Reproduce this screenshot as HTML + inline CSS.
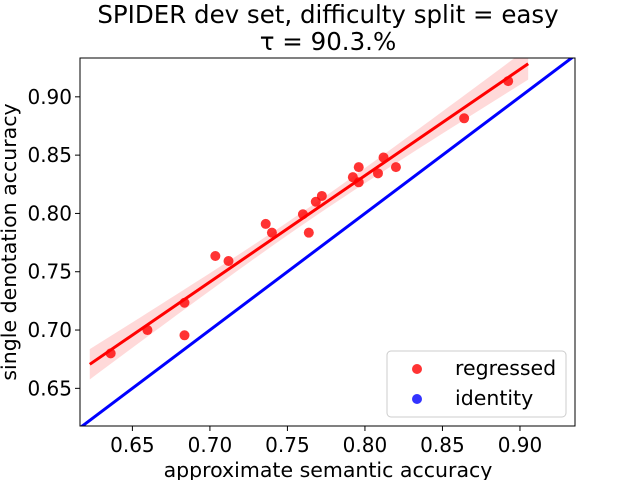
<!DOCTYPE html>
<html><head><meta charset="utf-8"><style>
body{margin:0;background:#fff}
svg{display:block;font-family:"DejaVu Sans","Liberation Sans",sans-serif}
</style></head><body>
<svg id="chart" width="640" height="480" viewBox="0 0 640 480">
<g id="title">
<text x="328" y="23" font-size="24.5" text-anchor="middle">SPIDER dev set, difficulty split = easy</text>
<text x="328" y="50" font-size="24.5" text-anchor="middle">τ = 90.3.%</text>
</g>
<defs><clipPath id="clip"><rect x="80" y="58" width="495" height="368"/></clipPath></defs>
<g id="plot" clip-path="url(#clip)"></g>
<g id="axes"></g>
<text x="328" y="477" font-size="20.5" text-anchor="middle">approximate semantic accuracy</text>
<text transform="translate(16,242) rotate(-90)" font-size="20.5" text-anchor="middle">single denotation accuracy</text>
<g>
<rect x="387" y="351" width="179" height="66" rx="4" fill="#fff" fill-opacity="0.8" stroke="#ccc"/>
<circle cx="417" cy="369" r="5" fill="#ff0000" fill-opacity="0.8"/>
<text x="455" y="375" font-size="20.5">regressed</text>
<circle cx="417" cy="399" r="5" fill="#0000ff" fill-opacity="0.8"/>
<text x="455" y="405" font-size="20.5">identity</text>
</g>
</svg>
<script>
const xVals = [0.636,0.6597,0.6836,0.6836,0.7035,0.712,0.736,0.740,0.760,0.7638,0.7683,0.7722,0.7922,0.796,0.796,0.8084,0.812,0.820,0.864,0.8924];
const yVals = [0.680,0.700,0.6955,0.7234,0.7635,0.7592,0.791,0.7835,0.7993,0.7835,0.810,0.815,0.8311,0.8397,0.8267,0.8344,0.848,0.8397,0.8816,0.9135];
const xTicks = [0.65,0.70,0.75,0.80,0.85,0.90];
const yTicks = [0.65,0.70,0.75,0.80,0.85,0.90];
const xDomain = [0.6162,0.9355];
const yDomain = [0.6177,0.9333];
const lineDomain = [0.6225,0.9053];

const L=80,R=575,T=58,B=426;
const sx=v=>L+(v-xDomain[0])/(xDomain[1]-xDomain[0])*(R-L);
const sy=v=>B-(v-yDomain[0])/(yDomain[1]-yDomain[0])*(B-T);
const NS="http://www.w3.org/2000/svg";
const plot=document.getElementById('plot'), axes=document.getElementById('axes');
function mk(tag,attrs,parent){const e=document.createElementNS(NS,tag);for(const k in attrs)e.setAttribute(k,attrs[k]);parent.appendChild(e);return e;}

const n=xVals.length;
const xm=xVals.reduce((a,b)=>a+b)/n, ym=yVals.reduce((a,b)=>a+b)/n;
let sxx=0,sxy=0;for(let i=0;i<n;i++){sxx+=(xVals[i]-xm)**2;sxy+=(xVals[i]-xm)*(yVals[i]-ym);}
const slope=sxy/sxx, icpt=ym-slope*xm;
let sse=0;for(let i=0;i<n;i++)sse+=(yVals[i]-icpt-slope*xVals[i])**2;
const s=Math.sqrt(sse/(n-2));
const up=[],dn=[];
for(let k=0;k<=50;k++){const x=lineDomain[0]+(lineDomain[1]-lineDomain[0])*k/50;
 const se=2.1*s*Math.sqrt(1/n+(x-xm)**2/sxx);const y=icpt+slope*x;
 up.push(sx(x)+','+sy(y+se));dn.unshift(sx(x)+','+sy(y-se));}
const band=mk('polygon',{points:up.concat(dn).join(' '),fill:'#ff0000','fill-opacity':0.15},plot);



const id=mk('line',{x1:sx(0.6),y1:sy(0.6),x2:sx(0.95),y2:sy(0.95),stroke:'#0000ff','stroke-width':3},plot);



const rl=mk('line',{x1:sx(lineDomain[0]),y1:sy(icpt+slope*lineDomain[0]),x2:sx(lineDomain[1]),y2:sy(icpt+slope*lineDomain[1]),stroke:'#ff0000','stroke-width':3},plot);



for(let i=0;i<n;i++){
 const c=mk('circle',{cx:sx(xVals[i]),cy:sy(yVals[i]),r:5,fill:'#ff0000','fill-opacity':0.8},plot);
 
 
}

const frame=mk('rect',{x:L,y:T,width:R-L,height:B-T,fill:'none',stroke:'#000','stroke-width':1},axes);


xTicks.forEach(t=>{
 const x=sx(t);
 const tk=mk('line',{x1:x,y1:B,x2:x,y2:B+5,stroke:'#000'},axes);
 
 
 const lb=mk('text',{x:x,y:B+26,'font-size':20,'text-anchor':'middle'},axes);
 lb.textContent=t.toFixed(2);
 
 
});
yTicks.forEach(t=>{
 const y=sy(t);
 const tk=mk('line',{x1:L-5,y1:y,x2:L,y2:y,stroke:'#000'},axes);
 
 
 const lb=mk('text',{x:L-8,y:y+7,'font-size':20,'text-anchor':'end'},axes);
 lb.textContent=t.toFixed(2);
 
 
});
</script>
</body></html>
